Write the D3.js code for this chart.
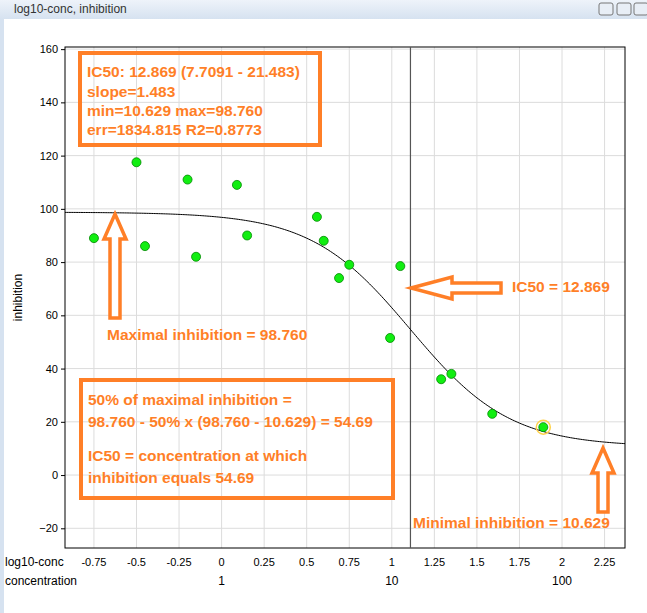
<!DOCTYPE html>
<html><head><meta charset="utf-8">
<script src="https://cdn.jsdelivr.net/npm/d3@7"></script>
<style>body{margin:0;background:#fff;font-family:"Liberation Sans",Arial,sans-serif}</style>
</head><body><svg id="c" width="647" height="613"></svg>
<script>
const xTicks=[-0.75,-0.5,-0.25,0,0.25,0.5,0.75,1,1.25,1.5,1.75,2,2.25];
const yTicks=[-20,0,20,40,60,80,100,120,140,160];
const concTicks=[1,10,100];
const logConc=[-0.75,-0.5,-0.45,-0.2,-0.15,0.09,0.15,0.56,0.6,0.69,0.75,0.99,1.05,1.29,1.35,1.59,1.89];
const inhib=[89,117.5,86,111,82,109,90,97,88,74,79,51.5,78.5,36,38,23,18];
const fit={ic50:12.869,slope:1.483,min:10.629,max:98.760};
const svg=d3.select("#c");
const L=65,R=625,T=47,B=548;
const x=d3.scaleLinear().domain([-0.92,2.37]).range([L,R]);
const y=d3.scaleLinear().domain([-27.4,160.8]).range([B,T]);
const OR="#ff7f27";
const g0=svg.append("defs").append("linearGradient").attr("id","tb").attr("x1",0).attr("y1",0).attr("x2",0).attr("y2",1);
g0.append("stop").attr("offset",0).attr("stop-color","#eef3fa");g0.append("stop").attr("offset",1).attr("stop-color","#d6e2f0");
svg.append("rect").attr("width",647).attr("height",19).attr("fill","url(#tb)");
svg.append("rect").attr("y",19).attr("width",4).attr("height",594).attr("fill","#d6e2f0");
svg.append("text").attr("x",14).attr("y",13).attr("font-size",12).attr("fill","#333").text("log10-conc, inhibition");
[606,624,641].forEach(bx=>svg.append("rect").attr("x",bx-7).attr("y",3).attr("width",14).attr("height",12).attr("rx",2).attr("fill","#e8eef6").attr("stroke","#777"));
svg.append("g").selectAll("line").data(xTicks).join("line").attr("x1",d=>x(d)).attr("x2",d=>x(d)).attr("y1",T).attr("y2",B).attr("stroke","#dcdcdc");
svg.append("g").selectAll("line").data(yTicks).join("line").attr("y1",d=>y(d)).attr("y2",d=>y(d)).attr("x1",L).attr("x2",R).attr("stroke","#dcdcdc");
svg.append("rect").attr("x",L).attr("y",T).attr("width",R-L).attr("height",B-T).attr("fill","none").attr("stroke","#000");
const ya=svg.append("g").attr("transform",`translate(${L},0)`).call(d3.axisLeft(y).tickValues(yTicks).tickSize(4).tickSizeOuter(0));
ya.select(".domain").remove();ya.selectAll("text").attr("font-size",11).attr("font-family","Liberation Sans");
svg.append("text").attr("transform",`translate(22,${(T+B)/2}) rotate(-90)`).attr("text-anchor","middle").attr("font-size",12).text("inhibition");
svg.append("g").selectAll("text").data(xTicks).join("text").attr("x",d=>x(d)).attr("y",566).attr("text-anchor","middle").attr("font-size",11).text(d=>d);
svg.append("text").attr("x",5).attr("y",566).attr("font-size",12).text("log10-conc");
svg.append("text").attr("x",5).attr("y",585).attr("font-size",12).text("concentration");
svg.append("g").selectAll("text").data(concTicks).join("text").attr("x",d=>x(Math.log10(d))).attr("y",585).attr("text-anchor","middle").attr("font-size",12).text(d=>d);
svg.append("line").attr("x1",x(Math.log10(fit.ic50))).attr("x2",x(Math.log10(fit.ic50))).attr("y1",T).attr("y2",B).attr("stroke","#555").attr("stroke-width",1.2);
const xs=d3.range(-0.92,2.371,0.01);
const f=v=>fit.min+(fit.max-fit.min)/(1+Math.pow(10,(v-Math.log10(fit.ic50))*fit.slope));
svg.append("path").datum(xs).attr("d",d3.line().x(d=>x(d)).y(d=>y(f(d)))).attr("fill","none").attr("stroke","#000").attr("stroke-width",1);
svg.append("g").selectAll("circle").data(logConc).join("circle").attr("cx",d=>x(d)).attr("cy",(d,i)=>y(inhib[i])).attr("r",4.5).attr("fill","#11ee11").attr("stroke","#008800").attr("stroke-width",0.8);
svg.append("circle").attr("cx",x(logConc[16])).attr("cy",y(inhib[16])).attr("r",7).attr("fill","none").attr("stroke","#ffd24a").attr("stroke-width",1.5);
function box(x0,y0,w,h){svg.append("rect").attr("x",x0).attr("y",y0).attr("width",w).attr("height",h).attr("fill","none").attr("stroke",OR).attr("stroke-width",4);}
function txt(tx,ty,s){svg.append("text").attr("x",tx).attr("y",ty).attr("font-size",15.5).attr("font-weight","bold").attr("fill",OR).text(s);}
box(80,53,240,92);
txt(87,77,"IC50: 12.869 (7.7091 - 21.483)");txt(87,97,"slope=1.483");txt(87,116,"min=10.629 max=98.760");txt(87,135,"err=1834.815 R2=0.8773");
box(81,380,312,118);
txt(88,405,"50% of maximal inhibition =");txt(88,427,"98.760 - 50% x (98.760 - 10.629) = 54.69");
txt(88,461,"IC50 = concentration at which");txt(88,483,"inhibition equals 54.69");
txt(107,340,"Maximal inhibition = 98.760");txt(512,292,"IC50 = 12.869");txt(413,528,"Minimal inhibition = 10.629");
function upArrow(cx,top,bot){svg.append("path").attr("d",`M${cx},${top} L${cx+11},${top+25} L${cx+5},${top+25} L${cx+5},${bot} L${cx-5},${bot} L${cx-5},${top+25} L${cx-11},${top+25} Z`).attr("fill","#fff").attr("stroke",OR).attr("stroke-width",3.5);}
upArrow(115,214,318);upArrow(603,448,512);
svg.append("path").attr("d",`M411,288 L452,277 L452,283 L501,283 L501,293 L452,293 L452,299 Z`).attr("fill","#fff").attr("stroke",OR).attr("stroke-width",3.5);
</script></body></html>
